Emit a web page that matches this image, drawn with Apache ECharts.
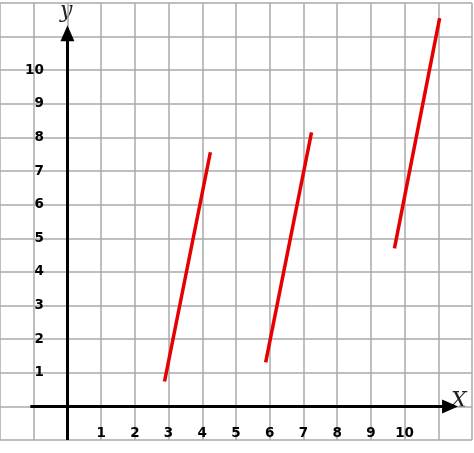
<!DOCTYPE html>
<html><head><meta charset="utf-8">
<script src="https://cdn.jsdelivr.net/npm/echarts@6/dist/echarts.min.js"></script>
<style>html,body{margin:0;padding:0;background:#fff}#c{width:474px;height:453px}</style>
</head><body><div id="c"></div>
<script>
const xTicks = [1, 2, 3, 4, 5, 6, 7, 8, 9, 10];
const yTicks = [1, 2, 3, 4, 5, 6, 7, 8, 9, 10];
const segments = [
  [[2.88, 0.74], [4.24, 7.56]],
  [[5.88, 1.31], [7.24, 8.15]],
  [[9.70, 4.70], [11.04, 11.55]]
];

const chart = echarts.init(document.getElementById('c'));
const labelFont = { fontFamily: 'DejaVu Sans', fontWeight: 'bold', fontSize: 13.5, color: '#000', opacity: 1, textBorderWidth: 0 };

const series = segments.map(s => ({
  type: 'line', data: s, symbol: 'none', silent: true,
  lineStyle: { color: '#e60000', width: 3.5 }
}));
series.push({
  type: 'line', data: [], silent: true,
  markLine: {
    silent: true, symbol: ['none', 'triangle'], symbolSize: [14, 16], animation: false,
    lineStyle: { color: '#000', width: 3, type: 'solid' }, label: { show: false },
    data: [
      [{ coord: [-1.1, 0] }, { coord: [11.35, 0] }],
      [{ coord: [0, -1] }, { coord: [0, 11.1] }]
    ]
  }
});
series.push({
  type: 'scatter', symbolSize: 0, silent: true, itemStyle: { opacity: 1 },
  data: xTicks.map(v => [v, -0.8]),
  label: { show: true, position: 'inside', formatter: p => String(p.value[0]), ...labelFont }
});
series.push({
  type: 'scatter', symbolSize: 0, silent: true, itemStyle: { opacity: 1 },
  data: yTicks.map(v => [-0.7, v]),
  label: { show: true, position: 'left', distance: 0, formatter: p => String(p.value[1]), ...labelFont }
});

chart.setOption({
  animation: false,
  grid: { left: 0, top: 3, width: 472, height: 437 },
  xAxis: {
    type: 'value', min: -2, max: 12, interval: 1,
    axisLine: { show: false }, axisTick: { show: false }, axisLabel: { show: false },
    splitLine: { lineStyle: { color: '#aaa', width: 1.5 } }
  },
  yAxis: {
    type: 'value', min: -1, max: 12, interval: 1,
    axisLine: { show: false }, axisTick: { show: false }, axisLabel: { show: false },
    splitLine: { lineStyle: { color: '#aaa', width: 1.5 } }
  },
  graphic: [
    { type: 'text', left: 60, top: 0, style: { text: 'y', font: 'italic 22px DejaVu Serif', fill: '#222' } },
    { type: 'text', left: 451, top: 390, style: { text: 'X', font: 'italic 22px DejaVu Serif', fill: '#222' } }
  ],
  series
});
</script></body></html>
